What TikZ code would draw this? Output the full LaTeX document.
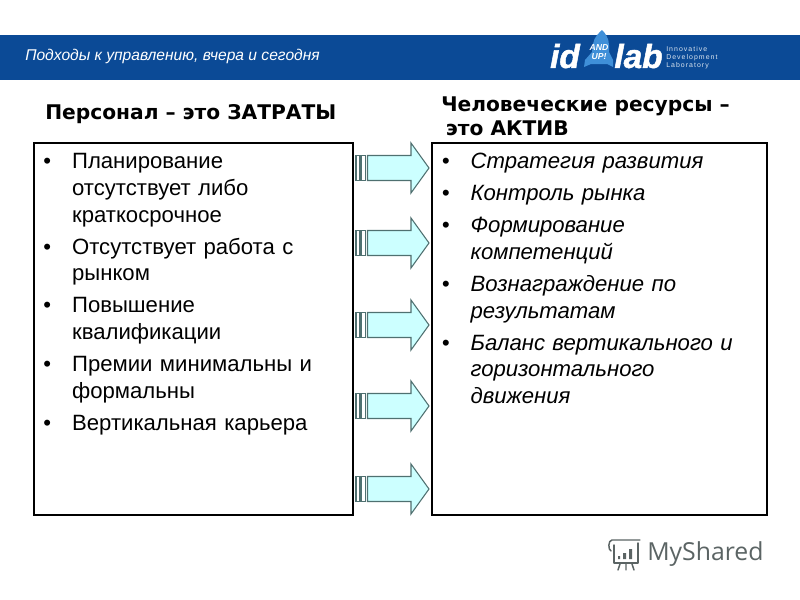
\documentclass[tikz,border=0pt]{standalone}
\usepackage{fontspec}
\setmainfont{Liberation Sans}
\newfontfamily\headfont{DejaVu Sans}
\newfontfamily\markfont{Open Sans}
\newfontfamily\logofont[BoldItalicFeatures={FakeBold=1.5}]{Liberation Sans}
\newfontfamily\tagfont[LetterSpace=15]{Liberation Sans}
\usepackage{enumitem}
\definecolor{band}{HTML}{0B4A96}
\definecolor{arrowfill}{HTML}{CCFFFF}
\definecolor{arrowline}{HTML}{4F7070}
\definecolor{rocket}{HTML}{3F8FD8}
\definecolor{markgray}{HTML}{5B6464}
\tikzset{
  x=0.75pt,y=-0.75pt,
  panel/.style={draw=black,line width=1.5pt,fill=white},
  heading/.style={font=\headfont\bfseries\fontsize{15.15}{18}\selectfont,anchor=west,align=left,inner sep=0pt,text=black},
  listtext/.style={anchor=north west,inner sep=0pt,text width=#1,align=left,text=black},
  bodyfont/.style={font=\fontsize{16.6}{20}\selectfont},
  blockarrow/.style={draw=arrowline,line width=0.8pt,fill=arrowfill},
  stripe/.style={draw=arrowline,line width=0.8pt,fill=white},
  logotext/.style={text=white,inner sep=0pt,anchor=center},
}
\newlist{plist}{itemize}{1}
\setlist[plist]{label=\textbullet,leftmargin=29.5pt,labelsep=0pt,labelwidth=21.5pt,align=left,itemindent=0pt,topsep=0pt,partopsep=0pt,parsep=0pt,itemsep=3.95pt}
\begin{document}
\begin{tikzpicture}
\useasboundingbox (0,0) rectangle (800,600);
\fill[white] (0,0) rectangle (800,600);
\fill[band] (0,35) rectangle (800,80);
\node[logotext,anchor=west,font=\itshape\fontsize{11.7}{13}\selectfont] (bandtitle) at (25,56) {Подходы к управлению, вчера и сегодня};
% logo
\fill[rocket] (584,67) -- (585,60) -- (592,52) -- (593,44) .. controls (594,37) and (599,33) .. (602,30) .. controls (605,33) and (609,38) .. (609,45) -- (609,52) -- (613,60) -- (613,67) -- (607,64) -- (591,64) -- cycle;
\node[logotext,font=\bfseries\itshape\fontsize{6.5}{7}\selectfont,align=center] (rockettext) at (599,52) {AND\\UP!};
\node[logotext,font=\logofont\bfseries\itshape\fontsize{25}{25}\selectfont] (logoid) at (565,56) {id};
\node[logotext,font=\logofont\bfseries\itshape\fontsize{25}{25}\selectfont] (logolab) at (638.5,56) {lab};
\node[logotext,anchor=west,align=left,font=\tagfont\fontsize{5.2}{5.9}\selectfont,text=white!85!band] (logotag) at (666,57.5) {Innovative\\Development\\Laboratory};
% headings
\node[heading] (lefthead) at (45,114.5) {Персонал – это ЗАТРАТЫ};
\node[heading] (righthead) at (441,116) {Человеческие ресурсы –\\\hspace{3.5pt}это АКТИВ};
% panels
\draw[panel] (33.5,143) rectangle (353,514.5);
\draw[panel] (432,143) rectangle (767,514.5);
\node[listtext=240pt,bodyfont] (leftlist) at (32.5,142) {\begin{plist}
\item Планирование\\отсутствует либо\\краткосрочное
\item Отсутствует работа с\\рынком
\item Повышение\\квалификации
\item Премии минимальны и\\формальны
\item Вертикальная карьера
\end{plist}};
\node[listtext=240pt,bodyfont] (rightlist) at (431,142) {\itshape\begin{plist}
\item Стратегия развития
\item Контроль рынка
\item Формирование\\компетенций
\item Вознаграждение по\\результатам
\item Баланс вертикального и\\горизонтального\\движения
\end{plist}};
% arrows
\foreach \cy in {168,243,325,406,489}{
  \draw[stripe] (356,\cy-12.5) rectangle (359.5,\cy+12.5);
  \draw[stripe] (361,\cy-12.5) rectangle (365.5,\cy+12.5);
  \draw[blockarrow] (367.5,\cy-12.5) -- (411,\cy-12.5) -- (411,\cy-25) -- (429,\cy) -- (411,\cy+25) -- (411,\cy+12.5) -- (367.5,\cy+12.5) -- cycle;
}
% watermark
\begin{scope}[draw=markgray,line width=1.1pt,line cap=round,line join=round]
\draw (612,540) -- (640,540) (612,540) .. controls (608,540) and (608,550) .. (611,551);
\draw (614,545) -- (614,563) -- (638,563) -- (638,543);
\fill[markgray] (618,556) rectangle (620,559) (623,553) rectangle (626,559) (629,549) rectangle (632,559);
\draw (620,564) -- (618,570) (626,564) -- (626,570) (632,564) -- (634,570);
\end{scope}
\node[inner sep=0pt,anchor=west,text=markgray,font=\markfont\fontsize{18.6}{22}\selectfont] (watermark) at (647,554) {MyShared};
\end{tikzpicture}
\end{document}
